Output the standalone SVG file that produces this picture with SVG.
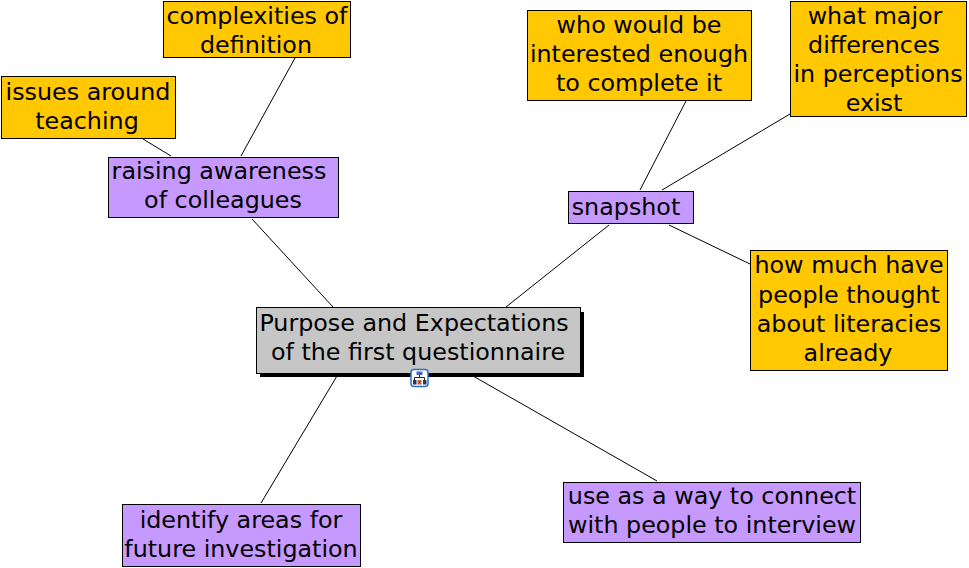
<svg xmlns="http://www.w3.org/2000/svg" width="969" height="568" viewBox="0 0 969 568">
<style>
text{font-family:"DejaVu Sans",sans-serif;font-size:23.8px;fill:#000;text-anchor:middle}
rect.b{stroke:#000;stroke-width:1}
.o{fill:#ffc800}.p{fill:#c699ff}.g{fill:#c6c6c6}
#connectors line{stroke:#000;stroke-width:1}
</style>
<rect width="969" height="568" fill="#fff"/>
<g id="connectors">
<line x1="333" y1="307" x2="252" y2="219"/>
<line x1="506" y1="307" x2="609" y2="225"/>
<line x1="337" y1="376" x2="261" y2="503"/>
<line x1="473" y1="376" x2="657" y2="481"/>
<line x1="241" y1="156" x2="295" y2="58"/>
<line x1="171" y1="156" x2="143" y2="139"/>
<line x1="640" y1="190" x2="686" y2="101"/>
<line x1="662" y1="190" x2="790" y2="114"/>
<line x1="669" y1="225" x2="750" y2="264"/>
</g>
<g id="n-root">
<rect x="260" y="312" width="324" height="65" fill="#000"/>
<rect class="b g" x="256.500" y="307.500" width="324" height="66"/>
<text x="414" y="331">Purpose and Expectations</text>
<text x="418" y="360">of the first questionnaire</text>
</g>
<g id="n-icon">
<rect x="411" y="369.500" width="17" height="17" rx="3" fill="#fff" stroke="#2a6fd0" stroke-width="1.500"/>
<path d="M419.500 375V378M414.500 380V377.500H424.500V380" fill="none" stroke="#223"/>
<rect x="416.500" y="371.500" width="6" height="3.500" fill="#4466bb"/>
<rect x="413" y="380" width="3.500" height="4.500" fill="#335"/>
<rect x="417.500" y="380" width="4" height="4.500" fill="#b06040"/>
<rect x="423" y="380" width="3.500" height="4.500" fill="#335"/>
</g>
<g id="n-awareness">
<rect class="b p" x="108.500" y="157.500" width="230" height="60"/>
<text x="219" y="179">raising awareness</text>
<text x="223" y="208">of colleagues</text>
</g>
<g id="n-complexities">
<rect class="b o" x="163.500" y="1.500" width="187" height="56"/>
<text x="257" y="24">complexities of</text>
<text x="256" y="53">definition</text>
</g>
<g id="n-issues">
<rect class="b o" x="1.500" y="76.500" width="174" height="62"/>
<text x="88" y="100">issues around</text>
<text x="87" y="129">teaching</text>
</g>
<g id="n-snapshot">
<rect class="b p" x="568.500" y="191.500" width="125" height="32"/>
<text x="626" y="215">snapshot</text>
</g>
<g id="n-who">
<rect class="b o" x="527.500" y="10.500" width="224" height="90"/>
<text x="639" y="33">who would be</text>
<text x="639" y="62">interested enough</text>
<text x="639" y="91">to complete it</text>
</g>
<g id="n-major">
<rect class="b o" x="790.500" y="1.500" width="176" height="115"/>
<text x="875" y="24">what major</text>
<text x="874" y="53">differences</text>
<text x="878" y="82">in perceptions</text>
<text x="874" y="111">exist</text>
</g>
<g id="n-much">
<rect class="b o" x="750.500" y="250.500" width="197" height="120"/>
<text x="849" y="273">how much have</text>
<text x="849" y="303">people thought</text>
<text x="849" y="332">about literacies</text>
<text x="848" y="361">already</text>
</g>
<g id="n-identify">
<rect class="b p" x="122.500" y="504.500" width="238" height="62"/>
<text x="241" y="528">identify areas for</text>
<text x="241" y="557">future investigation</text>
</g>
<g id="n-use">
<rect class="b p" x="563.500" y="482.500" width="297" height="60"/>
<text x="712" y="504">use as a way to connect</text>
<text x="712" y="533">with people to interview</text>
</g>
</svg>
